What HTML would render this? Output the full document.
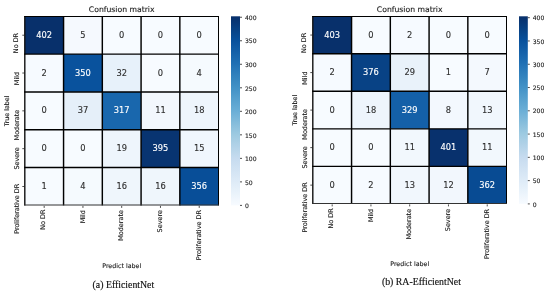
<!DOCTYPE html>
<html lang="en">
<head>
<meta charset="utf-8">
<title>Confusion matrix</title>
<style>
html,body{margin:0;padding:0;background:#fff;}
body{width:550px;height:292px;overflow:hidden;}
svg{display:block;filter:blur(0.35px);}
</style>
</head>
<body>
<svg width="550" height="292" viewBox="0 0 550 292">
<defs><linearGradient id="bl" x1="0" y1="1" x2="0" y2="0">
<stop offset="0.0000" stop-color="#f7fbff"/>
<stop offset="0.0312" stop-color="#f1f7fd"/>
<stop offset="0.0625" stop-color="#eaf3fb"/>
<stop offset="0.0938" stop-color="#e4eff9"/>
<stop offset="0.1250" stop-color="#deebf7"/>
<stop offset="0.1562" stop-color="#d8e7f5"/>
<stop offset="0.1875" stop-color="#d2e3f3"/>
<stop offset="0.2188" stop-color="#ccdff1"/>
<stop offset="0.2500" stop-color="#c6dbef"/>
<stop offset="0.2812" stop-color="#bcd7eb"/>
<stop offset="0.3125" stop-color="#b2d2e8"/>
<stop offset="0.3438" stop-color="#a8cee4"/>
<stop offset="0.3750" stop-color="#9dcae1"/>
<stop offset="0.4062" stop-color="#91c3de"/>
<stop offset="0.4375" stop-color="#84bcdb"/>
<stop offset="0.4688" stop-color="#77b5d9"/>
<stop offset="0.5000" stop-color="#6aaed6"/>
<stop offset="0.5312" stop-color="#60a7d2"/>
<stop offset="0.5625" stop-color="#56a0ce"/>
<stop offset="0.5938" stop-color="#4b98ca"/>
<stop offset="0.6250" stop-color="#4191c6"/>
<stop offset="0.6562" stop-color="#3989c1"/>
<stop offset="0.6875" stop-color="#3181bd"/>
<stop offset="0.7188" stop-color="#2979b9"/>
<stop offset="0.7500" stop-color="#2070b4"/>
<stop offset="0.7812" stop-color="#1a68ae"/>
<stop offset="0.8125" stop-color="#1460a8"/>
<stop offset="0.8438" stop-color="#0e58a2"/>
<stop offset="0.8750" stop-color="#08509b"/>
<stop offset="0.9062" stop-color="#08488e"/>
<stop offset="0.9375" stop-color="#084082"/>
<stop offset="0.9688" stop-color="#083776"/>
<stop offset="1.0000" stop-color="#08306b"/>
</linearGradient></defs>
<rect width="550" height="292" fill="#ffffff"/>
<g>
<rect x="24.80" y="16.30" width="38.76" height="37.82" fill="#08306b"/>
<rect x="63.56" y="16.30" width="38.76" height="37.82" fill="#f5f9fe"/>
<rect x="102.32" y="16.30" width="38.76" height="37.82" fill="#f7fbff"/>
<rect x="141.08" y="16.30" width="38.76" height="37.82" fill="#f7fbff"/>
<rect x="179.84" y="16.30" width="38.76" height="37.82" fill="#f7fbff"/>
<rect x="24.80" y="54.12" width="38.76" height="37.82" fill="#f6faff"/>
<rect x="63.56" y="54.12" width="38.76" height="37.82" fill="#09529d"/>
<rect x="102.32" y="54.12" width="38.76" height="37.82" fill="#e7f1fa"/>
<rect x="141.08" y="54.12" width="38.76" height="37.82" fill="#f7fbff"/>
<rect x="179.84" y="54.12" width="38.76" height="37.82" fill="#f5fafe"/>
<rect x="24.80" y="91.94" width="38.76" height="37.82" fill="#f7fbff"/>
<rect x="63.56" y="91.94" width="38.76" height="37.82" fill="#e5eff9"/>
<rect x="102.32" y="91.94" width="38.76" height="37.82" fill="#1967ad"/>
<rect x="141.08" y="91.94" width="38.76" height="37.82" fill="#f2f7fd"/>
<rect x="179.84" y="91.94" width="38.76" height="37.82" fill="#eef5fc"/>
<rect x="24.80" y="129.76" width="38.76" height="37.82" fill="#f7fbff"/>
<rect x="63.56" y="129.76" width="38.76" height="37.82" fill="#f7fbff"/>
<rect x="102.32" y="129.76" width="38.76" height="37.82" fill="#eef5fc"/>
<rect x="141.08" y="129.76" width="38.76" height="37.82" fill="#083471"/>
<rect x="179.84" y="129.76" width="38.76" height="37.82" fill="#f0f6fd"/>
<rect x="24.80" y="167.58" width="38.76" height="37.82" fill="#f7fbff"/>
<rect x="63.56" y="167.58" width="38.76" height="37.82" fill="#f5fafe"/>
<rect x="102.32" y="167.58" width="38.76" height="37.82" fill="#eff6fc"/>
<rect x="141.08" y="167.58" width="38.76" height="37.82" fill="#eff6fc"/>
<rect x="179.84" y="167.58" width="38.76" height="37.82" fill="#084e98"/>
<line x1="24.80" y1="16.10" x2="24.80" y2="205.40" stroke="#111" stroke-width="1.4"/>
<line x1="24.20" y1="16.50" x2="218.90" y2="16.50" stroke="#000" stroke-width="1.0"/>
<line x1="63.56" y1="16.10" x2="63.56" y2="205.40" stroke="#000" stroke-width="1.45"/>
<line x1="24.20" y1="54.12" x2="218.90" y2="54.12" stroke="#000" stroke-width="1.45"/>
<line x1="102.32" y1="16.10" x2="102.32" y2="205.40" stroke="#000" stroke-width="1.45"/>
<line x1="24.20" y1="91.94" x2="218.90" y2="91.94" stroke="#000" stroke-width="1.45"/>
<line x1="141.08" y1="16.10" x2="141.08" y2="205.40" stroke="#000" stroke-width="1.45"/>
<line x1="24.20" y1="129.76" x2="218.90" y2="129.76" stroke="#000" stroke-width="1.45"/>
<line x1="179.84" y1="16.10" x2="179.84" y2="205.40" stroke="#000" stroke-width="1.45"/>
<line x1="24.20" y1="167.58" x2="218.90" y2="167.58" stroke="#000" stroke-width="1.45"/>
<line x1="218.50" y1="16.10" x2="218.50" y2="205.40" stroke="#000" stroke-width="1.0"/>
<line x1="24.20" y1="205.00" x2="218.90" y2="205.00" stroke="#333" stroke-width="1.0"/>
<g font-family="DejaVu Sans, Liberation Sans, sans-serif" font-size="8.3" text-anchor="middle" stroke-width="0.12">
<text x="44.18" y="37.80" fill="#ffffff" stroke="#ffffff">402</text>
<text x="82.94" y="37.80" fill="#2e2e2e" stroke="#2e2e2e">5</text>
<text x="121.70" y="37.80" fill="#2e2e2e" stroke="#2e2e2e">0</text>
<text x="160.46" y="37.80" fill="#2e2e2e" stroke="#2e2e2e">0</text>
<text x="199.22" y="37.80" fill="#2e2e2e" stroke="#2e2e2e">0</text>
<text x="44.18" y="75.62" fill="#2e2e2e" stroke="#2e2e2e">2</text>
<text x="82.94" y="75.62" fill="#ffffff" stroke="#ffffff">350</text>
<text x="121.70" y="75.62" fill="#2e2e2e" stroke="#2e2e2e">32</text>
<text x="160.46" y="75.62" fill="#2e2e2e" stroke="#2e2e2e">0</text>
<text x="199.22" y="75.62" fill="#2e2e2e" stroke="#2e2e2e">4</text>
<text x="44.18" y="113.44" fill="#2e2e2e" stroke="#2e2e2e">0</text>
<text x="82.94" y="113.44" fill="#2e2e2e" stroke="#2e2e2e">37</text>
<text x="121.70" y="113.44" fill="#ffffff" stroke="#ffffff">317</text>
<text x="160.46" y="113.44" fill="#2e2e2e" stroke="#2e2e2e">11</text>
<text x="199.22" y="113.44" fill="#2e2e2e" stroke="#2e2e2e">18</text>
<text x="44.18" y="151.26" fill="#2e2e2e" stroke="#2e2e2e">0</text>
<text x="82.94" y="151.26" fill="#2e2e2e" stroke="#2e2e2e">0</text>
<text x="121.70" y="151.26" fill="#2e2e2e" stroke="#2e2e2e">19</text>
<text x="160.46" y="151.26" fill="#ffffff" stroke="#ffffff">395</text>
<text x="199.22" y="151.26" fill="#2e2e2e" stroke="#2e2e2e">15</text>
<text x="44.18" y="189.08" fill="#2e2e2e" stroke="#2e2e2e">1</text>
<text x="82.94" y="189.08" fill="#2e2e2e" stroke="#2e2e2e">4</text>
<text x="121.70" y="189.08" fill="#2e2e2e" stroke="#2e2e2e">16</text>
<text x="160.46" y="189.08" fill="#2e2e2e" stroke="#2e2e2e">16</text>
<text x="199.22" y="189.08" fill="#ffffff" stroke="#ffffff">356</text>
</g>
<text x="121.70" y="12.4" font-family="DejaVu Sans, Liberation Sans, sans-serif" font-size="7.7" text-anchor="middle" fill="#1a1a1a" stroke="#1a1a1a" stroke-width="0.12">Confusion matrix</text>
<g font-family="DejaVu Sans, Liberation Sans, sans-serif" font-size="6.45" fill="#1a1a1a" stroke="#1a1a1a" stroke-width="0.12">
<line x1="44.18" y1="205.90" x2="44.18" y2="207.90" stroke="#222" stroke-width="0.8"/>
<text transform="translate(44.98,209.50) rotate(-90)" text-anchor="end">No DR</text>
<line x1="22.30" y1="35.21" x2="24.30" y2="35.21" stroke="#222" stroke-width="0.8"/>
<text transform="translate(18.40,32.91) rotate(-90)" text-anchor="end">No DR</text>
<line x1="82.94" y1="205.90" x2="82.94" y2="207.90" stroke="#222" stroke-width="0.8"/>
<text transform="translate(85.34,210.10) rotate(-90)" text-anchor="end">Mild</text>
<line x1="22.30" y1="73.03" x2="24.30" y2="73.03" stroke="#222" stroke-width="0.8"/>
<text transform="translate(19.20,71.93) rotate(-90)" text-anchor="end">Mild</text>
<line x1="121.70" y1="205.90" x2="121.70" y2="207.90" stroke="#222" stroke-width="0.8"/>
<text transform="translate(123.30,210.10) rotate(-90)" text-anchor="end">Moderate</text>
<line x1="22.30" y1="110.85" x2="24.30" y2="110.85" stroke="#222" stroke-width="0.8"/>
<text transform="translate(19.20,109.75) rotate(-90)" text-anchor="end">Moderate</text>
<line x1="160.46" y1="205.90" x2="160.46" y2="207.90" stroke="#222" stroke-width="0.8"/>
<text transform="translate(162.06,210.10) rotate(-90)" text-anchor="end">Severe</text>
<line x1="22.30" y1="148.67" x2="24.30" y2="148.67" stroke="#222" stroke-width="0.8"/>
<text transform="translate(18.90,147.27) rotate(-90)" text-anchor="end">Severe</text>
<line x1="199.22" y1="205.90" x2="199.22" y2="207.90" stroke="#222" stroke-width="0.8"/>
<text transform="translate(200.82,210.10) rotate(-90)" text-anchor="end">Proliferative DR</text>
<line x1="22.30" y1="186.49" x2="24.30" y2="186.49" stroke="#222" stroke-width="0.8"/>
<text transform="translate(19.00,183.69) rotate(-90)" text-anchor="end">Proliferative DR</text>
</g>
<text x="121.70" y="268.3" font-family="DejaVu Sans, Liberation Sans, sans-serif" font-size="6.3" text-anchor="middle" fill="#1a1a1a" stroke="#1a1a1a" stroke-width="0.12">Predict label</text>
<text transform="translate(9.30,110.85) rotate(-90)" font-family="DejaVu Sans, Liberation Sans, sans-serif" font-size="6.3" text-anchor="middle" fill="#1a1a1a" stroke="#1a1a1a" stroke-width="0.12">True label</text>
<rect x="231.00" y="16.30" width="9.00" height="189.10" fill="url(#bl)"/>
<g font-family="DejaVu Sans, Liberation Sans, sans-serif" font-size="6.1" fill="#1a1a1a" stroke="#1a1a1a" stroke-width="0.12">
<line x1="240.00" y1="205.40" x2="242.00" y2="205.40" stroke="#222" stroke-width="0.8"/>
<text x="244.90" y="208.10">0</text>
<line x1="240.00" y1="181.88" x2="242.00" y2="181.88" stroke="#222" stroke-width="0.8"/>
<text x="244.90" y="184.58">50</text>
<line x1="240.00" y1="158.36" x2="242.00" y2="158.36" stroke="#222" stroke-width="0.8"/>
<text x="244.90" y="161.06">100</text>
<line x1="240.00" y1="134.84" x2="242.00" y2="134.84" stroke="#222" stroke-width="0.8"/>
<text x="244.90" y="137.54">150</text>
<line x1="240.00" y1="111.32" x2="242.00" y2="111.32" stroke="#222" stroke-width="0.8"/>
<text x="244.90" y="114.02">200</text>
<line x1="240.00" y1="87.80" x2="242.00" y2="87.80" stroke="#222" stroke-width="0.8"/>
<text x="244.90" y="90.50">250</text>
<line x1="240.00" y1="64.28" x2="242.00" y2="64.28" stroke="#222" stroke-width="0.8"/>
<text x="244.90" y="66.98">300</text>
<line x1="240.00" y1="40.76" x2="242.00" y2="40.76" stroke="#222" stroke-width="0.8"/>
<text x="244.90" y="43.46">350</text>
<line x1="240.00" y1="17.24" x2="242.00" y2="17.24" stroke="#222" stroke-width="0.8"/>
<text x="244.90" y="19.94">400</text>
</g>
<text x="123.4" y="287.7" font-family="Liberation Serif, Times New Roman, serif" font-size="9.8" text-anchor="middle" fill="#111" stroke="#111" stroke-width="0.15">(a) EfficientNet</text>
</g>
<g>
<rect x="312.80" y="16.30" width="38.76" height="37.52" fill="#08306b"/>
<rect x="351.56" y="16.30" width="38.76" height="37.52" fill="#f7fbff"/>
<rect x="390.32" y="16.30" width="38.76" height="37.52" fill="#f6faff"/>
<rect x="429.08" y="16.30" width="38.76" height="37.52" fill="#f7fbff"/>
<rect x="467.84" y="16.30" width="38.76" height="37.52" fill="#f7fbff"/>
<rect x="312.80" y="53.82" width="38.76" height="37.52" fill="#f6faff"/>
<rect x="351.56" y="53.82" width="38.76" height="37.52" fill="#084285"/>
<rect x="390.32" y="53.82" width="38.76" height="37.52" fill="#e9f2fa"/>
<rect x="429.08" y="53.82" width="38.76" height="37.52" fill="#f7fbff"/>
<rect x="467.84" y="53.82" width="38.76" height="37.52" fill="#f4f9fe"/>
<rect x="312.80" y="91.34" width="38.76" height="37.52" fill="#f7fbff"/>
<rect x="351.56" y="91.34" width="38.76" height="37.52" fill="#eef5fc"/>
<rect x="390.32" y="91.34" width="38.76" height="37.52" fill="#1460a8"/>
<rect x="429.08" y="91.34" width="38.76" height="37.52" fill="#f3f8fe"/>
<rect x="467.84" y="91.34" width="38.76" height="37.52" fill="#f1f7fd"/>
<rect x="312.80" y="128.86" width="38.76" height="37.52" fill="#f7fbff"/>
<rect x="351.56" y="128.86" width="38.76" height="37.52" fill="#f7fbff"/>
<rect x="390.32" y="128.86" width="38.76" height="37.52" fill="#f2f8fd"/>
<rect x="429.08" y="128.86" width="38.76" height="37.52" fill="#08316d"/>
<rect x="467.84" y="128.86" width="38.76" height="37.52" fill="#f2f8fd"/>
<rect x="312.80" y="166.38" width="38.76" height="37.52" fill="#f7fbff"/>
<rect x="351.56" y="166.38" width="38.76" height="37.52" fill="#f6faff"/>
<rect x="390.32" y="166.38" width="38.76" height="37.52" fill="#f1f7fd"/>
<rect x="429.08" y="166.38" width="38.76" height="37.52" fill="#f2f7fd"/>
<rect x="467.84" y="166.38" width="38.76" height="37.52" fill="#084b93"/>
<line x1="312.80" y1="16.10" x2="312.80" y2="203.90" stroke="#111" stroke-width="1.4"/>
<line x1="312.20" y1="16.50" x2="506.90" y2="16.50" stroke="#000" stroke-width="1.0"/>
<line x1="351.56" y1="16.10" x2="351.56" y2="203.90" stroke="#000" stroke-width="1.45"/>
<line x1="312.20" y1="53.82" x2="506.90" y2="53.82" stroke="#000" stroke-width="1.45"/>
<line x1="390.32" y1="16.10" x2="390.32" y2="203.90" stroke="#000" stroke-width="1.45"/>
<line x1="312.20" y1="91.34" x2="506.90" y2="91.34" stroke="#000" stroke-width="1.45"/>
<line x1="429.08" y1="16.10" x2="429.08" y2="203.90" stroke="#000" stroke-width="1.45"/>
<line x1="312.20" y1="128.86" x2="506.90" y2="128.86" stroke="#000" stroke-width="1.45"/>
<line x1="467.84" y1="16.10" x2="467.84" y2="203.90" stroke="#000" stroke-width="1.45"/>
<line x1="312.20" y1="166.38" x2="506.90" y2="166.38" stroke="#000" stroke-width="1.45"/>
<line x1="506.50" y1="16.10" x2="506.50" y2="203.90" stroke="#000" stroke-width="1.0"/>
<line x1="312.20" y1="203.50" x2="506.90" y2="203.50" stroke="#333" stroke-width="1.0"/>
<g font-family="DejaVu Sans, Liberation Sans, sans-serif" font-size="8.3" text-anchor="middle" stroke-width="0.12">
<text x="332.18" y="37.65" fill="#ffffff" stroke="#ffffff">403</text>
<text x="370.94" y="37.65" fill="#2e2e2e" stroke="#2e2e2e">0</text>
<text x="409.70" y="37.65" fill="#2e2e2e" stroke="#2e2e2e">2</text>
<text x="448.46" y="37.65" fill="#2e2e2e" stroke="#2e2e2e">0</text>
<text x="487.22" y="37.65" fill="#2e2e2e" stroke="#2e2e2e">0</text>
<text x="332.18" y="75.17" fill="#2e2e2e" stroke="#2e2e2e">2</text>
<text x="370.94" y="75.17" fill="#ffffff" stroke="#ffffff">376</text>
<text x="409.70" y="75.17" fill="#2e2e2e" stroke="#2e2e2e">29</text>
<text x="448.46" y="75.17" fill="#2e2e2e" stroke="#2e2e2e">1</text>
<text x="487.22" y="75.17" fill="#2e2e2e" stroke="#2e2e2e">7</text>
<text x="332.18" y="112.69" fill="#2e2e2e" stroke="#2e2e2e">0</text>
<text x="370.94" y="112.69" fill="#2e2e2e" stroke="#2e2e2e">18</text>
<text x="409.70" y="112.69" fill="#ffffff" stroke="#ffffff">329</text>
<text x="448.46" y="112.69" fill="#2e2e2e" stroke="#2e2e2e">8</text>
<text x="487.22" y="112.69" fill="#2e2e2e" stroke="#2e2e2e">13</text>
<text x="332.18" y="150.21" fill="#2e2e2e" stroke="#2e2e2e">0</text>
<text x="370.94" y="150.21" fill="#2e2e2e" stroke="#2e2e2e">0</text>
<text x="409.70" y="150.21" fill="#2e2e2e" stroke="#2e2e2e">11</text>
<text x="448.46" y="150.21" fill="#ffffff" stroke="#ffffff">401</text>
<text x="487.22" y="150.21" fill="#2e2e2e" stroke="#2e2e2e">11</text>
<text x="332.18" y="187.73" fill="#2e2e2e" stroke="#2e2e2e">0</text>
<text x="370.94" y="187.73" fill="#2e2e2e" stroke="#2e2e2e">2</text>
<text x="409.70" y="187.73" fill="#2e2e2e" stroke="#2e2e2e">13</text>
<text x="448.46" y="187.73" fill="#2e2e2e" stroke="#2e2e2e">12</text>
<text x="487.22" y="187.73" fill="#ffffff" stroke="#ffffff">362</text>
</g>
<text x="409.70" y="12.4" font-family="DejaVu Sans, Liberation Sans, sans-serif" font-size="7.7" text-anchor="middle" fill="#1a1a1a" stroke="#1a1a1a" stroke-width="0.12">Confusion matrix</text>
<g font-family="DejaVu Sans, Liberation Sans, sans-serif" font-size="6.45" fill="#1a1a1a" stroke="#1a1a1a" stroke-width="0.12">
<line x1="332.18" y1="204.40" x2="332.18" y2="206.40" stroke="#222" stroke-width="0.8"/>
<text transform="translate(332.98,208.30) rotate(-90)" text-anchor="end">No DR</text>
<line x1="310.30" y1="35.06" x2="312.30" y2="35.06" stroke="#222" stroke-width="0.8"/>
<text transform="translate(306.40,32.76) rotate(-90)" text-anchor="end">No DR</text>
<line x1="370.94" y1="204.40" x2="370.94" y2="206.40" stroke="#222" stroke-width="0.8"/>
<text transform="translate(373.34,208.90) rotate(-90)" text-anchor="end">Mild</text>
<line x1="310.30" y1="72.58" x2="312.30" y2="72.58" stroke="#222" stroke-width="0.8"/>
<text transform="translate(307.20,71.48) rotate(-90)" text-anchor="end">Mild</text>
<line x1="409.70" y1="204.40" x2="409.70" y2="206.40" stroke="#222" stroke-width="0.8"/>
<text transform="translate(411.30,208.90) rotate(-90)" text-anchor="end">Moderate</text>
<line x1="310.30" y1="110.10" x2="312.30" y2="110.10" stroke="#222" stroke-width="0.8"/>
<text transform="translate(307.20,109.00) rotate(-90)" text-anchor="end">Moderate</text>
<line x1="448.46" y1="204.40" x2="448.46" y2="206.40" stroke="#222" stroke-width="0.8"/>
<text transform="translate(450.06,208.90) rotate(-90)" text-anchor="end">Severe</text>
<line x1="310.30" y1="147.62" x2="312.30" y2="147.62" stroke="#222" stroke-width="0.8"/>
<text transform="translate(306.90,146.22) rotate(-90)" text-anchor="end">Severe</text>
<line x1="487.22" y1="204.40" x2="487.22" y2="206.40" stroke="#222" stroke-width="0.8"/>
<text transform="translate(488.82,208.90) rotate(-90)" text-anchor="end">Proliferative DR</text>
<line x1="310.30" y1="185.14" x2="312.30" y2="185.14" stroke="#222" stroke-width="0.8"/>
<text transform="translate(307.00,182.34) rotate(-90)" text-anchor="end">Proliferative DR</text>
</g>
<text x="409.70" y="265.6" font-family="DejaVu Sans, Liberation Sans, sans-serif" font-size="6.3" text-anchor="middle" fill="#1a1a1a" stroke="#1a1a1a" stroke-width="0.12">Predict label</text>
<text transform="translate(297.30,110.10) rotate(-90)" font-family="DejaVu Sans, Liberation Sans, sans-serif" font-size="6.3" text-anchor="middle" fill="#1a1a1a" stroke="#1a1a1a" stroke-width="0.12">True label</text>
<rect x="519.00" y="16.30" width="8.80" height="187.60" fill="url(#bl)"/>
<g font-family="DejaVu Sans, Liberation Sans, sans-serif" font-size="6.1" fill="#1a1a1a" stroke="#1a1a1a" stroke-width="0.12">
<line x1="527.80" y1="203.90" x2="529.80" y2="203.90" stroke="#222" stroke-width="0.8"/>
<text x="532.70" y="206.60">0</text>
<line x1="527.80" y1="180.62" x2="529.80" y2="180.62" stroke="#222" stroke-width="0.8"/>
<text x="532.70" y="183.32">50</text>
<line x1="527.80" y1="157.35" x2="529.80" y2="157.35" stroke="#222" stroke-width="0.8"/>
<text x="532.70" y="160.05">100</text>
<line x1="527.80" y1="134.07" x2="529.80" y2="134.07" stroke="#222" stroke-width="0.8"/>
<text x="532.70" y="136.77">150</text>
<line x1="527.80" y1="110.80" x2="529.80" y2="110.80" stroke="#222" stroke-width="0.8"/>
<text x="532.70" y="113.49">200</text>
<line x1="527.80" y1="87.52" x2="529.80" y2="87.52" stroke="#222" stroke-width="0.8"/>
<text x="532.70" y="90.22">250</text>
<line x1="527.80" y1="64.25" x2="529.80" y2="64.25" stroke="#222" stroke-width="0.8"/>
<text x="532.70" y="66.94">300</text>
<line x1="527.80" y1="40.97" x2="529.80" y2="40.97" stroke="#222" stroke-width="0.8"/>
<text x="532.70" y="43.67">350</text>
<line x1="527.80" y1="17.70" x2="529.80" y2="17.70" stroke="#222" stroke-width="0.8"/>
<text x="532.70" y="20.39">400</text>
</g>
<text x="421.4" y="285.0" font-family="Liberation Serif, Times New Roman, serif" font-size="9.8" text-anchor="middle" fill="#111" stroke="#111" stroke-width="0.15">(b) RA-EfficientNet</text>
</g>
</svg>
</body>
</html>
